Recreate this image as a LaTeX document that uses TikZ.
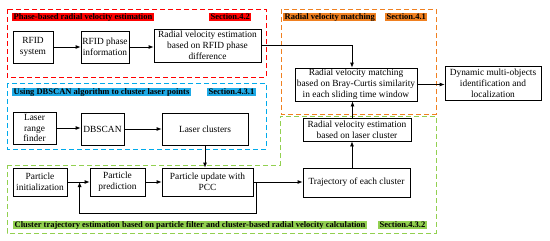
\documentclass[tikz,border=0pt]{standalone}
\usepackage{fontspec}
\setmainfont{Liberation Serif}
\usetikzlibrary{arrows.meta,calc}
\definecolor{cred}{RGB}{255,0,0}
\definecolor{corange}{RGB}{240,128,32}
\definecolor{cblue}{RGB}{0,170,235}
\definecolor{cbluelab}{RGB}{30,170,230}
\definecolor{cgreen}{RGB}{146,208,80}
\tikzset{
  box/.style={draw=black, line width=0.8pt, fill=white, align=center, inner sep=1pt,
    font=\fontsize{9.4}{10.8}\selectfont},
  arr/.style={line width=0.8pt, -{Latex[length=5pt,width=4pt]}},
  grp/.style={line width=0.9pt, dash pattern=on 5pt off 3pt},
  lab/.style={anchor=north west, inner xsep=1.5pt, inner ysep=0pt, text height=6.4pt, text depth=1.6pt,
    font=\fontsize{8.5}{9}\selectfont\bfseries}
}
\begin{document}
\begin{tikzpicture}[x=1pt,y=-1pt]
\useasboundingbox (0,0) rectangle (550,241);
% group frames
\draw[grp, draw=cred] (7,9) rectangle (266,77);
\draw[grp, draw=corange] (281,9) rectangle (436,114);
\draw[grp, draw=cblue] (7,83) rectangle (266,149);
\draw[grp, draw=cgreen] (7,165) -- (280,165) -- (280,116) -- (436,116) -- (436,233) -- (7,233) -- cycle;
% group labels
\node[lab, fill=cred] (lr1) at (12,12.5) {Phase-based radial velocity estimation};
\node[lab, fill=cred] (lr2) at (209,12.5) {Section.4.2};
\node[lab, fill=corange] (lo1) at (283,12.5) {Radial velocity matching};
\node[lab, fill=corange] (lo2) at (385,12.5) {Section.4.1};
\node[lab, fill=cbluelab] (lb1) at (12,87.5) {Using DBSCAN algorithm to cluster laser points};
\node[lab, fill=cbluelab] (lb2) at (207,87.5) {Section.4.3.1};
\node[lab, fill=cgreen] (lg1) at (13,220.5) {Cluster trajectory estimation based on particle filter and cluster-based radial velocity calculation};
\node[lab, fill=cgreen] (lg2) at (378,220.5) {Section.4.3.2};
% nodes
\node[box, minimum width=40pt, minimum height=32pt] (rfid) at (33,47) {RFID\\system};
\node[box, minimum width=48pt, minimum height=32pt] (phase) at (105,47) {RFID phase\\information};
\node[box, minimum width=107pt, minimum height=33pt] (rvrfid) at (207.5,45.5) {Radial velocity estimation\\based on RFID phase\\difference};
\node[box, minimum width=122pt, minimum height=33pt] (match) at (356,84.5) {Radial velocity matching\\based on Bray-Curtis similarity\\in each sliding time window};
\node[box, minimum width=96pt, minimum height=34pt] (dyn) at (493,83) {Dynamic multi-objects\\identification and\\localization};
\node[box, minimum width=43pt, minimum height=32pt] (laser) at (34.5,128) {Laser\\range\\finder};
\node[box, minimum width=43pt, minimum height=32pt] (dbscan) at (102.5,129) {DBSCAN};
\node[box, minimum width=86pt, minimum height=32pt] (clusters) at (205,129) {Laser clusters};
\node[box, minimum width=54pt, minimum height=28pt] (init) at (40,182) {Particle\\initialization};
\node[box, minimum width=55pt, minimum height=28pt] (pred) at (117.5,182) {Particle\\prediction};
\node[box, minimum width=91pt, minimum height=28pt] (update) at (207.5,182) {Particle update with\\PCC};
\node[box, minimum width=107pt, minimum height=29pt] (traj) at (356.5,182.5) {Trajectory of each cluster};
\node[box, minimum width=108pt, minimum height=23pt] (rvlaser) at (357,129.5) {Radial velocity estimation\\based on laser cluster};
% connectors
\draw[arr] (rfid) -- (phase);
\draw[arr] (phase) -- (phase -| rvrfid.west);
\draw[arr] (rvrfid.east) -| ([xshift=-4pt]match.north);
\draw[arr] (match.east) -- (match.east -| dyn.west);
\draw[arr] (laser) -- (laser -| dbscan.west);
\draw[arr] (dbscan) -- (clusters);
\draw[arr] (clusters.south) -- (clusters.south |- update.north);
\draw[arr] (init) -- (pred);
\draw[arr] (pred) -- (update);
\draw[arr] (update.east) -- (update.east -| traj.west);
\coordinate (join) at ($(init.east)!0.55!(pred.west)$);
\draw[arr] ([xshift=3pt]update.east) -- ++(0,31) -| (join);
\draw[arr] ([xshift=-4.5pt]traj.north) -- ([xshift=-4.5pt]traj.north |- rvlaser.south);
\draw[arr] ([xshift=-4.5pt]rvlaser.north) -- ([xshift=-4.5pt]rvlaser.north |- match.south);
\end{tikzpicture}
\end{document}
